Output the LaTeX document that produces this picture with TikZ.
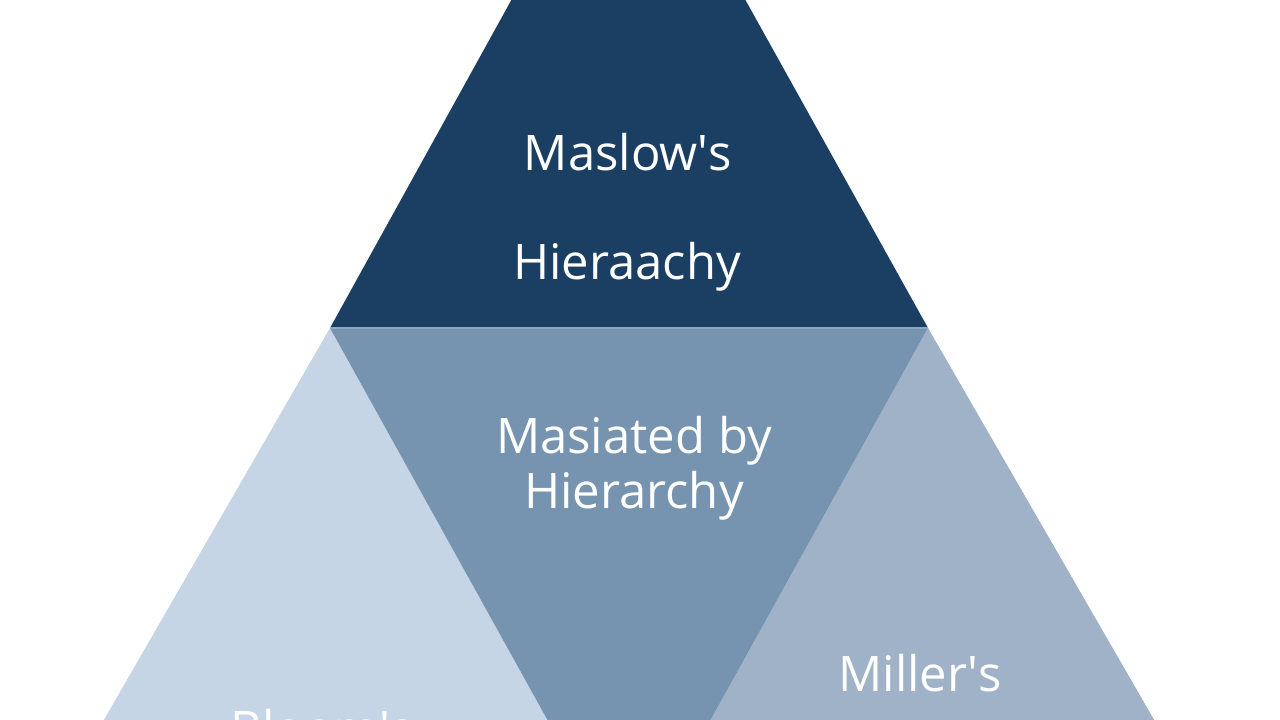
\documentclass[tikz,border=0pt]{standalone}
\usepackage{fontspec}
\setmainfont{Open Sans}
\definecolor{topblue}{HTML}{1B3F62}
\definecolor{midblue}{HTML}{7693B0}
\definecolor{leftblue}{HTML}{C5D5E6}
\definecolor{rightblue}{HTML}{A0B2C8}
\definecolor{seamblue}{HTML}{8EA8C2}
\begin{document}
\begin{tikzpicture}
        [x=1pt, y=-1pt,
        label/.style={text=white, font=\fontsize{49}{55}\selectfont, align=center, inner sep=0pt},
        ]
        \useasboundingbox (0,0) rectangle (1280,720);
        \clip (0,0) rectangle (1280,720);
        \fill[white] (0,0) rectangle (1280,720);
        % corners of the four triangles
        \coordinate (apex) at (628,-211);
        \coordinate (baseL) at (330,328);
        \coordinate (baseR) at (928,328);
        \coordinate (footL) at (19,867);
        \coordinate (footM) at (629,867);
        \coordinate (footR) at (1239,867);
        \fill[leftblue] (baseL) -- (footL) -- (footM) -- cycle;
        \fill[rightblue] (baseR) -- (footM) -- (footR) -- cycle;
        \fill[midblue] (baseL) -- (baseR) -- (footM) -- cycle;
        \fill[topblue] (apex) -- (baseL) -- (baseR) -- cycle;
        \draw[seamblue, line width=1.5pt] (baseL) -- (baseR);
        \node[label] (maslow) at (628,152) {Maslow\textquotesingle s};
        \node[label] (hieraachy) at (627,267) {Hieraachy};
        \node[label] (masiated) at (634,468) {Masiated by\\Hierarchy};
        \node[label] (miller) at (920,673) {Miller\textquotesingle s};
        \node[label] (bloom) at (322,728) {Bloom\textquotesingle s};
\end{tikzpicture}
\end{document}
